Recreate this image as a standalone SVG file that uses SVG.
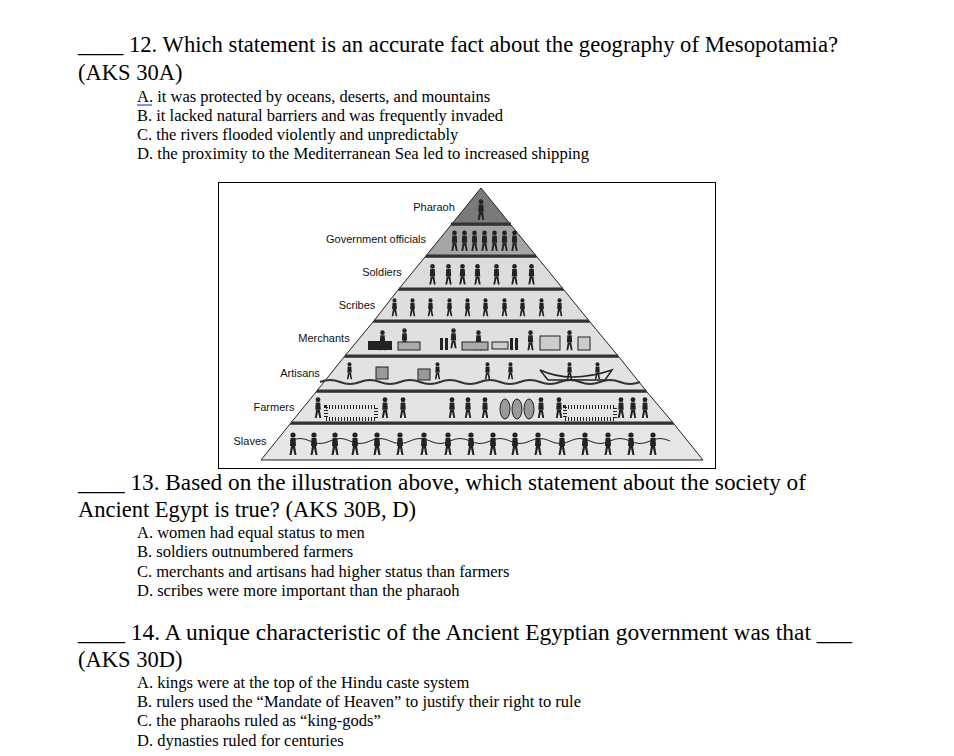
<svg xmlns="http://www.w3.org/2000/svg" xmlns:xlink="http://www.w3.org/1999/xlink" width="954" height="756" viewBox="0 0 954 756">
<style>
.q{font-family:"Liberation Serif","Times New Roman",serif;font-size:22.5px;fill:#000}
.o{font-family:"Liberation Serif","Times New Roman",serif;font-size:16.5px;fill:#000}
.l{font-family:"Liberation Sans",Arial,sans-serif;font-size:11px;fill:#111;text-anchor:middle}
.tier{stroke:#222;stroke-width:1}
.ledge{stroke:#333;stroke-width:3}
.fig{fill:#222}
</style>
<defs>
<symbol id="p" viewBox="0 0 10 24" overflow="visible">
<circle cx="5" cy="3" r="2.6"/>
<path d="M2.5 6 H7.5 L8 14 H2 Z"/>
<path d="M3 14 L1.5 23 H3.5 L5 16 L6.5 23 H8.5 L7 14 Z"/>
</symbol>
</defs>
<rect width="954" height="756" fill="#fff"/>

<g id="q12">
<text class="q" x="78" y="52" textLength="760" lengthAdjust="spacingAndGlyphs">____ 12. Which statement is an accurate fact about the geography of Mesopotamia?</text>
<text class="q" x="78" y="80">(AKS 30A)</text>
<text class="o" x="137" y="102">A. it was protected by oceans, deserts, and mountains</text>
<line x1="137" y1="105" x2="152" y2="105" stroke="#3b5bc8" stroke-width="1.3"/>
<text class="o" x="137" y="121">B. it lacked natural barriers and was frequently invaded</text>
<text class="o" x="137" y="140">C. the rivers flooded violently and unpredictably</text>
<text class="o" x="137" y="159" textLength="452" lengthAdjust="spacingAndGlyphs">D. the proximity to the Mediterranean Sea led to increased shipping</text>
</g>

<g id="pyramid">
<rect x="218.5" y="182.5" width="497" height="286" fill="#fff" stroke="#000" stroke-width="1"/>
<polygon class="tier" points="481,188 451,225 511,225" fill="#7a7a7a"/>
<polygon class="tier" points="451,225 511,225 537,257 425,257" fill="#a5a5a5"/>
<polygon class="tier" points="425,257 537,257 564,290 398,290" fill="#dcdcdc"/>
<polygon class="tier" points="398,290 564,290 590,322 373,322" fill="#dedede"/>
<polygon class="tier" points="373,322 590,322 619,357 344,357" fill="#e0e0e0"/>
<polygon class="tier" points="344,357 619,357 647,392 316,392" fill="#e2e2e2"/>
<polygon class="tier" points="316,392 647,392 674,424 290,424" fill="#e4e4e4"/>
<polygon class="tier" points="290,424 674,424 703,460 261,460" fill="#e6e6e6"/>
<g class="ledge">
<line x1="451" y1="224" x2="511" y2="224"/>
<line x1="426" y1="256" x2="536" y2="256"/>
<line x1="399" y1="289" x2="563" y2="289"/>
<line x1="374" y1="321" x2="589" y2="321"/>
<line x1="345" y1="356" x2="618" y2="356"/>
<line x1="317" y1="391" x2="646" y2="391"/>
<line x1="291" y1="423" x2="673" y2="423"/>
</g>
<g class="fig">
<use href="#p" x="476" y="199" width="10" height="22"/>
<use href="#p" x="450" y="230" width="9" height="22"/><use href="#p" x="460" y="230" width="9" height="22"/><use href="#p" x="470" y="230" width="9" height="22"/><use href="#p" x="480" y="230" width="9" height="22"/><use href="#p" x="490" y="230" width="9" height="22"/><use href="#p" x="500" y="230" width="9" height="22"/><use href="#p" x="510" y="230" width="9" height="22"/>
<use href="#p" x="428" y="263" width="9" height="23"/><use href="#p" x="444" y="263" width="9" height="23"/><use href="#p" x="458" y="263" width="9" height="23"/><use href="#p" x="473" y="263" width="9" height="23"/><use href="#p" x="492" y="263" width="9" height="23"/><use href="#p" x="510" y="263" width="9" height="23"/><use href="#p" x="527" y="263" width="9" height="23"/>
<use href="#p" x="390" y="298" width="9" height="19"/><use href="#p" x="408" y="298" width="9" height="19"/><use href="#p" x="426" y="298" width="9" height="19"/><use href="#p" x="445" y="298" width="9" height="19"/><use href="#p" x="463" y="298" width="9" height="19"/><use href="#p" x="481" y="298" width="9" height="19"/><use href="#p" x="500" y="298" width="9" height="19"/><use href="#p" x="518" y="298" width="9" height="19"/><use href="#p" x="537" y="298" width="9" height="19"/><use href="#p" x="555" y="298" width="9" height="19"/>
<use href="#p" x="378" y="330" width="9" height="21"/><use href="#p" x="400" y="328" width="9" height="21"/><use href="#p" x="449" y="328" width="9" height="21"/><use href="#p" x="474" y="330" width="9" height="21"/><use href="#p" x="526" y="330" width="9" height="21"/><use href="#p" x="565" y="330" width="9" height="21"/>
<rect x="368" y="341" width="24" height="9"/><rect x="398" y="342" width="22" height="8" fill="#aaa" stroke="#222"/><rect x="440" y="338" width="3" height="12"/><rect x="445" y="338" width="3" height="12"/><rect x="462" y="342" width="26" height="8" fill="#aaa" stroke="#222"/><rect x="492" y="342" width="16" height="7" fill="#ccc" stroke="#222"/><rect x="510" y="338" width="3" height="12"/><rect x="515" y="338" width="3" height="12"/><rect x="540" y="336" width="20" height="14" fill="#ccc" stroke="#222"/><rect x="578" y="337" width="12" height="13" fill="#ccc" stroke="#222"/>
<path d="M320 382 Q330 378 340 382 T360 382 T380 382 T400 382 T420 382 T440 382 T460 382 T480 382 T500 382 T520 382 T540 382 T560 382 T580 382 T600 382 T620 382 T640 382" fill="none" stroke="#333" stroke-width="2"/>
<use href="#p" x="345" y="362" width="9" height="18"/><use href="#p" x="433" y="362" width="9" height="18"/><use href="#p" x="483" y="362" width="9" height="18"/><use href="#p" x="506" y="362" width="9" height="18"/><use href="#p" x="565" y="362" width="9" height="18"/><use href="#p" x="593" y="362" width="9" height="18"/>
<rect x="376" y="367" width="12" height="12" fill="#999" stroke="#222"/><rect x="418" y="369" width="12" height="11" fill="#999" stroke="#222"/>
<path d="M540 370 Q570 384 612 370 L605 380 H548 Z" fill="none" stroke="#222" stroke-width="1.5"/>
<use href="#p" x="313" y="397" width="10" height="22"/><use href="#p" x="380" y="397" width="10" height="22"/><use href="#p" x="398" y="397" width="10" height="22"/><use href="#p" x="447" y="397" width="10" height="22"/><use href="#p" x="463" y="397" width="10" height="22"/><use href="#p" x="480" y="397" width="10" height="22"/><use href="#p" x="536" y="397" width="10" height="22"/><use href="#p" x="554" y="397" width="10" height="22"/><use href="#p" x="616" y="397" width="10" height="22"/><use href="#p" x="628" y="397" width="10" height="22"/><use href="#p" x="640" y="397" width="10" height="22"/>
<rect x="326" y="407" width="50" height="12" fill="none" stroke="#222" stroke-dasharray="1 2" stroke-width="4"/>
<rect x="565" y="407" width="50" height="12" fill="none" stroke="#222" stroke-dasharray="1 2" stroke-width="4"/>
<ellipse cx="505" cy="409" rx="5" ry="10" fill="#999" stroke="#222"/><ellipse cx="517" cy="409" rx="5" ry="10" fill="#999" stroke="#222"/><ellipse cx="529" cy="409" rx="5" ry="10" fill="#999" stroke="#222"/>
<path d="M290 441 Q300 436 310 441 T330 441 T350 441 T370 441 T390 441 T410 441 T430 441 T450 441 T470 441 T490 441 T510 441 T530 441 T550 441 T570 441 T590 441 T610 441 T630 441 T650 441 T670 441" fill="none" stroke="#222" stroke-width="1"/>
<use href="#p" x="288" y="432" width="10" height="24"/><use href="#p" x="309" y="432" width="10" height="24"/><use href="#p" x="330" y="432" width="10" height="24"/><use href="#p" x="350" y="432" width="10" height="24"/><use href="#p" x="372" y="432" width="10" height="24"/><use href="#p" x="395" y="432" width="10" height="24"/><use href="#p" x="419" y="432" width="10" height="24"/><use href="#p" x="443" y="432" width="10" height="24"/><use href="#p" x="466" y="432" width="10" height="24"/><use href="#p" x="488" y="432" width="10" height="24"/><use href="#p" x="510" y="432" width="10" height="24"/><use href="#p" x="533" y="432" width="10" height="24"/><use href="#p" x="557" y="432" width="10" height="24"/><use href="#p" x="580" y="432" width="10" height="24"/><use href="#p" x="603" y="432" width="10" height="24"/><use href="#p" x="626" y="432" width="10" height="24"/><use href="#p" x="648" y="432" width="10" height="24"/>
</g>
<text class="l" x="434" y="211">Pharaoh</text>
<text class="l" x="376" y="243">Government officials</text>
<text class="l" x="382" y="276">Soldiers</text>
<text class="l" x="357" y="309">Scribes</text>
<text class="l" x="324" y="342">Merchants</text>
<text class="l" x="300" y="377">Artisans</text>
<text class="l" x="274" y="411">Farmers</text>
<text class="l" x="250" y="445">Slaves</text>
</g>

<g id="q13">
<text class="q" x="78" y="490" textLength="728" lengthAdjust="spacingAndGlyphs">____ 13. Based on the illustration above, which statement about the society of</text>
<text class="q" x="78" y="517">Ancient Egypt is true? (AKS 30B, D)</text>
<text class="o" x="137" y="538">A. women had equal status to men</text>
<text class="o" x="137" y="557">B. soldiers outnumbered farmers</text>
<text class="o" x="137" y="577">C. merchants and artisans had higher status than farmers</text>
<text class="o" x="137" y="596">D. scribes were more important than the pharaoh</text>
</g>

<g id="q14">
<text class="q" x="78" y="640" textLength="774" lengthAdjust="spacingAndGlyphs">____ 14. A unique characteristic of the Ancient Egyptian government was that ___</text>
<text class="q" x="78" y="667">(AKS 30D)</text>
<text class="o" x="137" y="688">A. kings were at the top of the Hindu caste system</text>
<text class="o" x="137" y="707">B. rulers used the “Mandate of Heaven” to justify their right to rule</text>
<text class="o" x="137" y="726">C. the pharaohs ruled as “king-gods”</text>
<text class="o" x="137" y="746">D. dynasties ruled for centuries</text>
</g>
</svg>
